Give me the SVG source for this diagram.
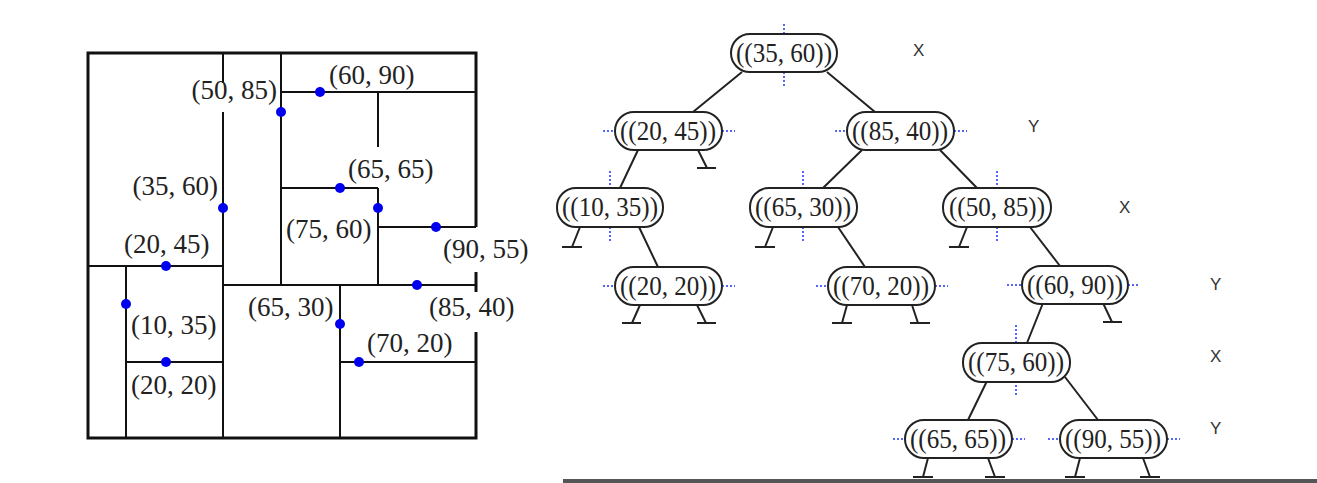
<svg xmlns="http://www.w3.org/2000/svg" width="1317" height="483" viewBox="0 0 1317 483">
<style>
.b{fill:none;stroke:#111;stroke-width:3}
.l{fill:none;stroke:#111;stroke-width:2}
.d{fill:#0000ee}
.t{font-family:"Liberation Serif",serif;font-size:27px;fill:#222}
.n rect{fill:#fff;stroke:#222;stroke-width:2}
.n text{font-family:"Liberation Serif",serif;font-size:27px;fill:#222;text-anchor:middle}
.e{fill:none;stroke:#222;stroke-width:2}
.s{fill:none;stroke:#5566ff;stroke-width:2;stroke-dasharray:2 2}
.a{font-family:"Liberation Sans",sans-serif;font-size:17px;fill:#333}
</style>
<rect width="1317" height="483" fill="#fff"/>
<g id="plane">
<path class="b" d="M476 227V53H88V438H476V332M476 272V292"/>
<path class="l" d="M223 53V83M223 112V438M88 266H223M126 266V438M126 362H223M223 285H476M281 53V285M281 92H476M378 92V147M378 188V285M281 188H378M378 227H476M340 285V438M340 362H476"/>
<g class="d">
<circle cx="223" cy="208" r="5"/><circle cx="281" cy="112" r="5"/><circle cx="320" cy="92" r="5"/>
<circle cx="166" cy="266" r="5"/><circle cx="126" cy="304" r="5"/><circle cx="166" cy="362" r="5"/>
<circle cx="340" cy="188" r="5"/><circle cx="378" cy="208" r="5"/><circle cx="436" cy="227" r="5"/>
<circle cx="417" cy="285" r="5"/><circle cx="340" cy="324" r="5"/><circle cx="359" cy="362" r="5"/>
</g>
<text class="t" x="277" y="99" text-anchor="end">(50, 85)</text>
<text class="t" x="329" y="84">(60, 90)</text>
<text class="t" x="218" y="195" text-anchor="end">(35, 60)</text>
<text class="t" x="124" y="253">(20, 45)</text>
<text class="t" x="348" y="178">(65, 65)</text>
<text class="t" x="286" y="238">(75, 60)</text>
<text class="t" x="443" y="258">(90, 55)</text>
<text class="t" x="429" y="316">(85, 40)</text>
<text class="t" x="248" y="316">(65, 30)</text>
<text class="t" x="367" y="352">(70, 20)</text>
<text class="t" x="131" y="334">(10, 35)</text>
<text class="t" x="131" y="394">(20, 20)</text>
</g>
<g id="connectors">
<path class="e" d="M742 72L693 112M827 72L875 112M638 150L620 188M698 150L707 168M697 168H716M580 227L572 247M562 247H582M639 227L658 267M640 305L632 323M622 323H641M697 305L706 323M697 323H716M862 150L823 188M940 150L977 188M773 227L765 247M755 247H775M838 227L865 267M847 305L842 323M832 323H852M912 305L918 323M910 323H930M967 227L959 247M949 247H969M1030 227L1060 266M1043 303L1027 343M1103 303L1112 322M1103 322H1122M987 381L968 420M1065 377L1098 420M928 458L923 477M913 477H933M988 458L995 477M985 477H1005M1080 458L1075 477M1065 477H1085M1143 458L1150 477M1140 477H1160"/>
<path class="s" d="M784 24V34M784 72V88M610 171V188M610 227V243M803 171V188M803 227V243M997 171V188M997 227V243M1016 325V343M1016 381V397M603 131H615M722 131H735M835 131H847M954 131H967M603 286H615M722 286H735M816 286H828M935 286H948M1007 285H1022M1128 285H1140M893 439H905M1012 439H1025M1048 439H1060M1167 439H1180"/>
</g>
<g id="n3560" class="n"><rect x="731" y="34" width="106" height="38" rx="19"/><text x="784" y="62" textLength="96" lengthAdjust="spacingAndGlyphs">((35, 60))</text></g>
<g id="n2045" class="n"><rect x="615" y="112" width="107" height="38" rx="19"/><text x="668" y="140" textLength="96" lengthAdjust="spacingAndGlyphs">((20, 45))</text></g>
<g id="n8540" class="n"><rect x="847" y="112" width="107" height="38" rx="19"/><text x="900" y="140" textLength="96" lengthAdjust="spacingAndGlyphs">((85, 40))</text></g>
<g id="n1035" class="n"><rect x="557" y="188" width="106" height="39" rx="19"/><text x="610" y="216" textLength="96" lengthAdjust="spacingAndGlyphs">((10, 35))</text></g>
<g id="n6530" class="n"><rect x="750" y="188" width="107" height="39" rx="19"/><text x="803" y="216" textLength="96" lengthAdjust="spacingAndGlyphs">((65, 30))</text></g>
<g id="n5085" class="n"><rect x="943" y="188" width="108" height="39" rx="19"/><text x="997" y="216" textLength="96" lengthAdjust="spacingAndGlyphs">((50, 85))</text></g>
<g id="n2020" class="n"><rect x="615" y="267" width="107" height="38" rx="19"/><text x="668" y="295" textLength="96" lengthAdjust="spacingAndGlyphs">((20, 20))</text></g>
<g id="n7020" class="n"><rect x="828" y="267" width="107" height="38" rx="19"/><text x="881" y="295" textLength="96" lengthAdjust="spacingAndGlyphs">((70, 20))</text></g>
<g id="n6090" class="n"><rect x="1022" y="266" width="106" height="38" rx="19"/><text x="1075" y="294" textLength="96" lengthAdjust="spacingAndGlyphs">((60, 90))</text></g>
<g id="n7560" class="n"><rect x="963" y="343" width="107" height="39" rx="19"/><text x="1016" y="371" textLength="96" lengthAdjust="spacingAndGlyphs">((75, 60))</text></g>
<g id="n6565" class="n"><rect x="905" y="420" width="107" height="38" rx="19"/><text x="958" y="448" textLength="96" lengthAdjust="spacingAndGlyphs">((65, 65))</text></g>
<g id="n9055" class="n"><rect x="1060" y="420" width="107" height="38" rx="19"/><text x="1113" y="448" textLength="96" lengthAdjust="spacingAndGlyphs">((90, 55))</text></g>
<g id="axes">
<text class="a" x="913" y="56">X</text>
<text class="a" x="1028" y="132">Y</text>
<text class="a" x="1119" y="213">X</text>
<text class="a" x="1210" y="290">Y</text>
<text class="a" x="1210" y="362">X</text>
<text class="a" x="1210" y="434">Y</text>
</g>
<rect x="563" y="479" width="754" height="4" fill="#555"/>
</svg>
